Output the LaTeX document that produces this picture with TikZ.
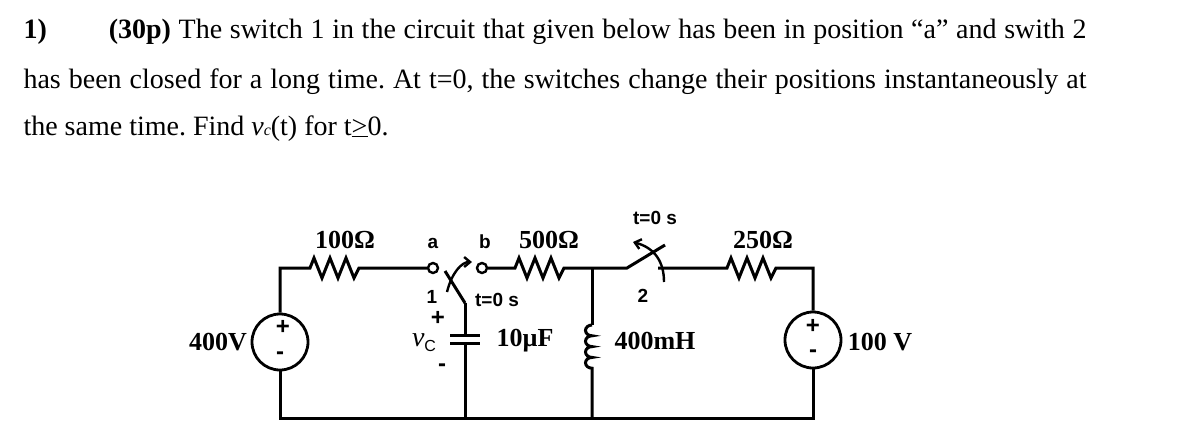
\documentclass[tikz,border=0pt]{standalone}
\usepackage{fontspec}
\setmainfont{Liberation Serif}
\newfontfamily\sansb{Liberation Sans}
\usetikzlibrary{arrows.meta}
\begin{document}
\frenchspacing
\begin{tikzpicture}[x=1pt,y=-1pt,line width=3pt,
  txt/.style={inner sep=0pt,anchor=base west,font=\fontsize{28}{32}\selectfont},
  val/.style={inner sep=0pt,font=\fontsize{26}{28}\selectfont\bfseries},
  lab/.style={inner sep=0pt,font=\sansb\fontsize{19}{21}\selectfont\bfseries},
  sig/.style={inner sep=0pt,font=\sansb\fontsize{24}{26}\selectfont\bfseries},
  src/.style={circle,draw,minimum size=56pt,inner sep=0pt,line width=2.8pt},
  term/.style={circle,draw,fill=white,minimum size=10pt,inner sep=0pt,line width=2.4pt}]
\useasboundingbox (0,0) rectangle (1179,445);
% question text
\node[txt] (q1) at (22,38) {\makebox[1063pt][s]{\textbf{1)}\hspace{62pt}\textbf{(30p)} The switch 1 in the circuit that given below has been in position “a” and swith 2}};
\node[txt] (q2) at (22,88) {\makebox[1063pt][s]{has been closed for a long time. At t=0, the switches change their positions instantaneously at}};
\node[txt] (q3) at (22,135) {the same time. Find \textit{v}{\fontsize{16}{16}\selectfont\textit{c}}(t) for t\underline{>}0.};
% coordinates
\coordinate (tl) at (280,268); \coordinate (bl) at (280,418);
\coordinate (tr) at (813,268); \coordinate (br) at (813,418);
\coordinate (capx) at (465,303); \coordinate (capb) at (465,418);
\coordinate (nl) at (592,268); \coordinate (nlb) at (592,418);
\node[src] (v1) at (280,342) {};
\node[src] (v2) at (813,340) {};
\node[term] (ta) at (433,268) {};
\node[term] (tb) at (482,268) {};
% left loop
\draw (v1.north) -- (tl) -- (310,268) -- (314,258) -- (322,278) -- (330,258) -- (338,278) -- (346,258) -- (354,278) -- (359,268) -- (ta.west);
\draw (v1.south) -- (bl) -- (br) -- (v2.south);
% switch 1
\draw (capx) -- (445,271);
\draw[line width=2.4pt,-{Straight Barb[length=6pt,width=10pt]}] (447,292) .. controls (452,272) and (462,262) .. (472,262);
% capacitor
\draw (capx) -- (465,335); \draw (450,335) -- (480,335);
\draw (450,343) -- (480,343); \draw (465,343) -- (capb);
% middle
\draw (tb.east) -- (515,268) -- (519,258) -- (527,278) -- (535,258) -- (543,278) -- (551,258) -- (559,278) -- (564,268) -- (nl) -- (627,268) -- (665,245);
\draw (nl) -- (592,325);
\draw (592,325) arc (90:270:6.5pt and 5.4pt) arc (90:270:6.5pt and 5.4pt) arc (90:270:6.5pt and 5.4pt) arc (90:270:6.5pt and 5.4pt) -- (nlb);
\draw[line width=2.4pt,-{Straight Barb[length=6pt,width=10pt]}] (664,282) .. controls (664,262) and (655,248) .. (633,242);
% right
\draw (658,268) -- (727,268) -- (731,258) -- (739,278) -- (747,258) -- (755,278) -- (763,258) -- (771,278) -- (776,268) -- (tr) -- (v2.north);
% source signs
\node[sig] at (283,327) {+}; \node[sig] at (280,356) {-};
\node[sig] at (813,326) {+}; \node[sig] at (813,354) {-};
% labels
\node[val] (l1) at (218,342) {400V};
\node[val] (l2) at (880,342) {100 V};
\node[val] (l3) at (345,240) {100Ω};
\node[val] (l4) at (549,240) {500Ω};
\node[val] (l5) at (763,240) {250Ω};
\node[val] (l6) at (525,341) {10µF};
\node[val] (l7) at (655,341) {400mH};
\node[lab] (la) at (433,243) {a};
\node[lab] (lb) at (485,242) {b};
\node[lab] (ls) at (655,218) {t=0 s};
\node[lab] (ls2) at (497,300) {t=0 s};
\node[lab] (l1s) at (432,297) {1};
\node[lab] (l2s) at (643,296) {2};
\node[sig] at (438,318) {+};
\node[sig] at (442,368) {-};
\node[inner sep=0pt] at (424,343) {\fontsize{28}{28}\selectfont\textit{v}\raisebox{-5pt}{\sansb\fontsize{16}{16}\selectfont C}};
\end{tikzpicture}
\end{document}
